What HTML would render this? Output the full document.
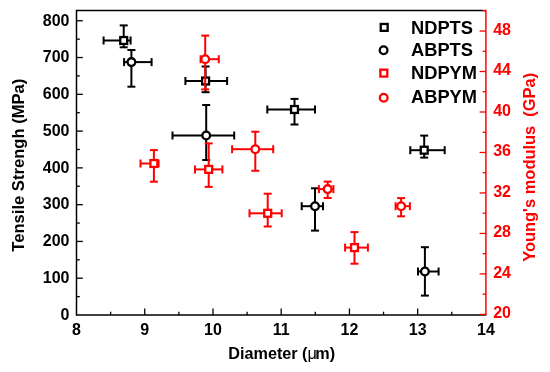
<!DOCTYPE html>
<html><head><meta charset="utf-8"><title>Tensile strength and Young's modulus vs diameter</title>
<style>html,body{margin:0;padding:0;background:#fff;}svg{display:block;}</style></head>
<body><svg width="550" height="372" viewBox="0 0 550 372">
<rect width="550" height="372" fill="#fff"/>
<line x1="76.5" y1="10.6" x2="482.9" y2="10.6" stroke="#000000" stroke-width="1.5"/>
<line x1="76.5" y1="315.0" x2="485.9" y2="315.0" stroke="#000000" stroke-width="1.5"/>
<line x1="76.5" y1="9.85" x2="76.5" y2="315.75" stroke="#000000" stroke-width="1.5"/>
<line x1="110.62" y1="315.0" x2="110.62" y2="311.7" stroke="#000000" stroke-width="1.3"/>
<line x1="144.73" y1="315.0" x2="144.73" y2="308.5" stroke="#000000" stroke-width="1.3"/>
<line x1="178.85" y1="315.0" x2="178.85" y2="311.7" stroke="#000000" stroke-width="1.3"/>
<line x1="212.97" y1="315.0" x2="212.97" y2="308.5" stroke="#000000" stroke-width="1.3"/>
<line x1="247.08" y1="315.0" x2="247.08" y2="311.7" stroke="#000000" stroke-width="1.3"/>
<line x1="281.20" y1="315.0" x2="281.20" y2="308.5" stroke="#000000" stroke-width="1.3"/>
<line x1="315.32" y1="315.0" x2="315.32" y2="311.7" stroke="#000000" stroke-width="1.3"/>
<line x1="349.43" y1="315.0" x2="349.43" y2="308.5" stroke="#000000" stroke-width="1.3"/>
<line x1="383.55" y1="315.0" x2="383.55" y2="311.7" stroke="#000000" stroke-width="1.3"/>
<line x1="417.67" y1="315.0" x2="417.67" y2="308.5" stroke="#000000" stroke-width="1.3"/>
<line x1="451.78" y1="315.0" x2="451.78" y2="311.7" stroke="#000000" stroke-width="1.3"/>
<line x1="76.5" y1="296.61" x2="79.8" y2="296.61" stroke="#000000" stroke-width="1.3"/>
<line x1="76.5" y1="278.22" x2="82.8" y2="278.22" stroke="#000000" stroke-width="1.3"/>
<line x1="76.5" y1="259.83" x2="79.8" y2="259.83" stroke="#000000" stroke-width="1.3"/>
<line x1="76.5" y1="241.44" x2="82.8" y2="241.44" stroke="#000000" stroke-width="1.3"/>
<line x1="76.5" y1="223.05" x2="79.8" y2="223.05" stroke="#000000" stroke-width="1.3"/>
<line x1="76.5" y1="204.66" x2="82.8" y2="204.66" stroke="#000000" stroke-width="1.3"/>
<line x1="76.5" y1="186.27" x2="79.8" y2="186.27" stroke="#000000" stroke-width="1.3"/>
<line x1="76.5" y1="167.88" x2="82.8" y2="167.88" stroke="#000000" stroke-width="1.3"/>
<line x1="76.5" y1="149.49" x2="79.8" y2="149.49" stroke="#000000" stroke-width="1.3"/>
<line x1="76.5" y1="131.10" x2="82.8" y2="131.10" stroke="#000000" stroke-width="1.3"/>
<line x1="76.5" y1="112.71" x2="79.8" y2="112.71" stroke="#000000" stroke-width="1.3"/>
<line x1="76.5" y1="94.32" x2="82.8" y2="94.32" stroke="#000000" stroke-width="1.3"/>
<line x1="76.5" y1="75.93" x2="79.8" y2="75.93" stroke="#000000" stroke-width="1.3"/>
<line x1="76.5" y1="57.54" x2="82.8" y2="57.54" stroke="#000000" stroke-width="1.3"/>
<line x1="76.5" y1="39.15" x2="79.8" y2="39.15" stroke="#000000" stroke-width="1.3"/>
<line x1="76.5" y1="20.76" x2="82.8" y2="20.76" stroke="#000000" stroke-width="1.3"/>
<line x1="485.9" y1="9.85" x2="485.9" y2="315.75" stroke="#ff0000" stroke-width="1.5"/>
<line x1="482.9" y1="10.6" x2="485.9" y2="10.6" stroke="#ff0000" stroke-width="1.5"/>
<line x1="485.9" y1="314.40" x2="479.59999999999997" y2="314.40" stroke="#ff0000" stroke-width="1.3"/>
<line x1="485.9" y1="294.16" x2="482.59999999999997" y2="294.16" stroke="#ff0000" stroke-width="1.3"/>
<line x1="485.9" y1="273.92" x2="479.59999999999997" y2="273.92" stroke="#ff0000" stroke-width="1.3"/>
<line x1="485.9" y1="253.68" x2="482.59999999999997" y2="253.68" stroke="#ff0000" stroke-width="1.3"/>
<line x1="485.9" y1="233.44" x2="479.59999999999997" y2="233.44" stroke="#ff0000" stroke-width="1.3"/>
<line x1="485.9" y1="213.20" x2="482.59999999999997" y2="213.20" stroke="#ff0000" stroke-width="1.3"/>
<line x1="485.9" y1="192.96" x2="479.59999999999997" y2="192.96" stroke="#ff0000" stroke-width="1.3"/>
<line x1="485.9" y1="172.72" x2="482.59999999999997" y2="172.72" stroke="#ff0000" stroke-width="1.3"/>
<line x1="485.9" y1="152.48" x2="479.59999999999997" y2="152.48" stroke="#ff0000" stroke-width="1.3"/>
<line x1="485.9" y1="132.24" x2="482.59999999999997" y2="132.24" stroke="#ff0000" stroke-width="1.3"/>
<line x1="485.9" y1="112.00" x2="479.59999999999997" y2="112.00" stroke="#ff0000" stroke-width="1.3"/>
<line x1="485.9" y1="91.76" x2="482.59999999999997" y2="91.76" stroke="#ff0000" stroke-width="1.3"/>
<line x1="485.9" y1="71.52" x2="479.59999999999997" y2="71.52" stroke="#ff0000" stroke-width="1.3"/>
<line x1="485.9" y1="51.28" x2="482.59999999999997" y2="51.28" stroke="#ff0000" stroke-width="1.3"/>
<line x1="485.9" y1="31.04" x2="479.59999999999997" y2="31.04" stroke="#ff0000" stroke-width="1.3"/>
<line x1="485.9" y1="10.80" x2="482.59999999999997" y2="10.80" stroke="#ff0000" stroke-width="1.3"/>
<g font-family="Liberation Sans, sans-serif" font-weight="bold" font-size="16" fill="#000000"><text x="76.50" y="334.5" text-anchor="middle">8</text><text x="144.73" y="334.5" text-anchor="middle">9</text><text x="212.97" y="334.5" text-anchor="middle">10</text><text x="281.20" y="334.5" text-anchor="middle">11</text><text x="349.43" y="334.5" text-anchor="middle">12</text><text x="417.67" y="334.5" text-anchor="middle">13</text><text x="485.90" y="334.5" text-anchor="middle">14</text><text x="69.5" y="319.80" text-anchor="end">0</text><text x="69.5" y="283.02" text-anchor="end">100</text><text x="69.5" y="246.24" text-anchor="end">200</text><text x="69.5" y="209.46" text-anchor="end">300</text><text x="69.5" y="172.68" text-anchor="end">400</text><text x="69.5" y="135.90" text-anchor="end">500</text><text x="69.5" y="99.12" text-anchor="end">600</text><text x="69.5" y="62.34" text-anchor="end">700</text><text x="69.5" y="25.56" text-anchor="end">800</text></g>
<g font-family="Liberation Sans, sans-serif" font-weight="bold" font-size="16" fill="#ff0000"><text x="493.2" y="318.30">20</text><text x="493.2" y="277.82">24</text><text x="493.2" y="237.34">28</text><text x="493.2" y="196.86">32</text><text x="493.2" y="156.38">36</text><text x="493.2" y="115.90">40</text><text x="493.2" y="75.42">44</text><text x="493.2" y="34.94">48</text></g>
<text x="228.3" y="358.9" font-family="Liberation Sans, sans-serif" font-weight="bold" font-size="16.2" fill="#000000">Diameter (<tspan font-weight="normal">μ</tspan><tspan dx="-1.5">m)</tspan></text>
<text transform="translate(24.0,251.7) rotate(-90)" font-family="Liberation Sans, sans-serif" font-weight="bold" font-size="16.6" fill="#000000">Tensile Strengh (MPa)</text>
<text transform="translate(535.1,261.8) rotate(-90)" font-family="Liberation Sans, sans-serif" font-weight="bold" font-size="16.45" fill="#ff0000" xml:space="preserve">Young's modulus  (GPa)</text>
<g stroke="#000000" stroke-width="2.0"><line x1="103.6" y1="40.5" x2="123.7" y2="40.5"/><line x1="103.6" y1="36.5" x2="103.6" y2="44.5"/><line x1="123.7" y1="40.5" x2="130.6" y2="40.5"/><line x1="130.6" y1="36.5" x2="130.6" y2="44.5"/><line x1="123.7" y1="25.4" x2="123.7" y2="40.5"/><line x1="119.7" y1="25.4" x2="127.7" y2="25.4"/><line x1="123.7" y1="40.5" x2="123.7" y2="47.3"/><line x1="119.7" y1="47.3" x2="127.7" y2="47.3"/></g>
<g stroke="#000000" stroke-width="2.0"><line x1="185.4" y1="81" x2="205.6" y2="81"/><line x1="185.4" y1="77.0" x2="185.4" y2="85.0"/><line x1="205.6" y1="81" x2="227.1" y2="81"/><line x1="227.1" y1="77.0" x2="227.1" y2="85.0"/><line x1="205.6" y1="66.5" x2="205.6" y2="81"/><line x1="201.6" y1="66.5" x2="209.6" y2="66.5"/><line x1="205.6" y1="81" x2="205.6" y2="92.2"/><line x1="201.6" y1="92.2" x2="209.6" y2="92.2"/></g>
<g stroke="#000000" stroke-width="2.0"><line x1="267.3" y1="109.5" x2="294.5" y2="109.5"/><line x1="267.3" y1="105.5" x2="267.3" y2="113.5"/><line x1="294.5" y1="109.5" x2="315" y2="109.5"/><line x1="315" y1="105.5" x2="315" y2="113.5"/><line x1="294.5" y1="98.9" x2="294.5" y2="109.5"/><line x1="290.5" y1="98.9" x2="298.5" y2="98.9"/><line x1="294.5" y1="109.5" x2="294.5" y2="124.5"/><line x1="290.5" y1="124.5" x2="298.5" y2="124.5"/></g>
<g stroke="#000000" stroke-width="2.0"><line x1="410.3" y1="150.2" x2="424.2" y2="150.2"/><line x1="410.3" y1="146.2" x2="410.3" y2="154.2"/><line x1="424.2" y1="150.2" x2="444.7" y2="150.2"/><line x1="444.7" y1="146.2" x2="444.7" y2="154.2"/><line x1="424.2" y1="135.6" x2="424.2" y2="150.2"/><line x1="420.2" y1="135.6" x2="428.2" y2="135.6"/><line x1="424.2" y1="150.2" x2="424.2" y2="157.6"/><line x1="420.2" y1="157.6" x2="428.2" y2="157.6"/></g>
<rect x="120.25" y="37.05" width="6.9" height="6.9" fill="#fff" stroke="#000000" stroke-width="2.3"/>
<rect x="202.15" y="77.55" width="6.9" height="6.9" fill="#fff" stroke="#000000" stroke-width="2.3"/>
<rect x="291.05" y="106.05" width="6.9" height="6.9" fill="#fff" stroke="#000000" stroke-width="2.3"/>
<rect x="420.75" y="146.75" width="6.9" height="6.9" fill="#fff" stroke="#000000" stroke-width="2.3"/>
<g stroke="#000000" stroke-width="2.0"><line x1="124.1" y1="62.1" x2="131.4" y2="62.1"/><line x1="124.1" y1="58.1" x2="124.1" y2="66.1"/><line x1="131.4" y1="62.1" x2="151.6" y2="62.1"/><line x1="151.6" y1="58.1" x2="151.6" y2="66.1"/><line x1="131.4" y1="50" x2="131.4" y2="62.1"/><line x1="127.4" y1="50" x2="135.4" y2="50"/><line x1="131.4" y1="62.1" x2="131.4" y2="86.7"/><line x1="127.4" y1="86.7" x2="135.4" y2="86.7"/></g>
<g stroke="#000000" stroke-width="2.0"><line x1="172.5" y1="135.5" x2="206.2" y2="135.5"/><line x1="172.5" y1="131.5" x2="172.5" y2="139.5"/><line x1="206.2" y1="135.5" x2="234.2" y2="135.5"/><line x1="234.2" y1="131.5" x2="234.2" y2="139.5"/><line x1="206.2" y1="105" x2="206.2" y2="135.5"/><line x1="202.2" y1="105" x2="210.2" y2="105"/><line x1="206.2" y1="135.5" x2="206.2" y2="160"/><line x1="202.2" y1="160" x2="210.2" y2="160"/></g>
<g stroke="#000000" stroke-width="2.0"><line x1="301.7" y1="206.2" x2="315" y2="206.2"/><line x1="301.7" y1="202.2" x2="301.7" y2="210.2"/><line x1="315" y1="206.2" x2="323" y2="206.2"/><line x1="323" y1="202.2" x2="323" y2="210.2"/><line x1="315" y1="188.3" x2="315" y2="206.2"/><line x1="311.0" y1="188.3" x2="319.0" y2="188.3"/><line x1="315" y1="206.2" x2="315" y2="230.6"/><line x1="311.0" y1="230.6" x2="319.0" y2="230.6"/></g>
<g stroke="#000000" stroke-width="2.0"><line x1="418" y1="271.5" x2="424.9" y2="271.5"/><line x1="418" y1="267.5" x2="418" y2="275.5"/><line x1="424.9" y1="271.5" x2="438.6" y2="271.5"/><line x1="438.6" y1="267.5" x2="438.6" y2="275.5"/><line x1="424.9" y1="247.2" x2="424.9" y2="271.5"/><line x1="420.9" y1="247.2" x2="428.9" y2="247.2"/><line x1="424.9" y1="271.5" x2="424.9" y2="295.6"/><line x1="420.9" y1="295.6" x2="428.9" y2="295.6"/></g>
<circle cx="131.4" cy="62.1" r="3.85" fill="#fff" stroke="#000000" stroke-width="2.3"/>
<circle cx="206.2" cy="135.5" r="3.85" fill="#fff" stroke="#000000" stroke-width="2.3"/>
<circle cx="315" cy="206.2" r="3.85" fill="#fff" stroke="#000000" stroke-width="2.3"/>
<circle cx="424.9" cy="271.5" r="3.85" fill="#fff" stroke="#000000" stroke-width="2.3"/>
<g stroke="#ff0000" stroke-width="2.0"><line x1="140.5" y1="163.5" x2="153.9" y2="163.5"/><line x1="140.5" y1="159.5" x2="140.5" y2="167.5"/><line x1="153.9" y1="163.5" x2="158.6" y2="163.5"/><line x1="158.6" y1="159.5" x2="158.6" y2="167.5"/><line x1="153.9" y1="150.1" x2="153.9" y2="163.5"/><line x1="149.9" y1="150.1" x2="157.9" y2="150.1"/><line x1="153.9" y1="163.5" x2="153.9" y2="181.7"/><line x1="149.9" y1="181.7" x2="157.9" y2="181.7"/></g>
<g stroke="#ff0000" stroke-width="2.0"><line x1="195" y1="169.4" x2="208.7" y2="169.4"/><line x1="195" y1="165.4" x2="195" y2="173.4"/><line x1="208.7" y1="169.4" x2="222.4" y2="169.4"/><line x1="222.4" y1="165.4" x2="222.4" y2="173.4"/><line x1="208.7" y1="143.4" x2="208.7" y2="169.4"/><line x1="204.7" y1="143.4" x2="212.7" y2="143.4"/><line x1="208.7" y1="169.4" x2="208.7" y2="186.9"/><line x1="204.7" y1="186.9" x2="212.7" y2="186.9"/></g>
<g stroke="#ff0000" stroke-width="2.0"><line x1="249.5" y1="213.3" x2="267.7" y2="213.3"/><line x1="249.5" y1="209.3" x2="249.5" y2="217.3"/><line x1="267.7" y1="213.3" x2="281.7" y2="213.3"/><line x1="281.7" y1="209.3" x2="281.7" y2="217.3"/><line x1="267.7" y1="193.7" x2="267.7" y2="213.3"/><line x1="263.7" y1="193.7" x2="271.7" y2="193.7"/><line x1="267.7" y1="213.3" x2="267.7" y2="226.5"/><line x1="263.7" y1="226.5" x2="271.7" y2="226.5"/></g>
<g stroke="#ff0000" stroke-width="2.0"><line x1="345.1" y1="247.6" x2="354.5" y2="247.6"/><line x1="345.1" y1="243.6" x2="345.1" y2="251.6"/><line x1="354.5" y1="247.6" x2="367.9" y2="247.6"/><line x1="367.9" y1="243.6" x2="367.9" y2="251.6"/><line x1="354.5" y1="232.1" x2="354.5" y2="247.6"/><line x1="350.5" y1="232.1" x2="358.5" y2="232.1"/><line x1="354.5" y1="247.6" x2="354.5" y2="263.7"/><line x1="350.5" y1="263.7" x2="358.5" y2="263.7"/></g>
<rect x="150.45000000000002" y="160.05" width="6.9" height="6.9" fill="#fff" stroke="#ff0000" stroke-width="2.3"/>
<rect x="205.25" y="165.95000000000002" width="6.9" height="6.9" fill="#fff" stroke="#ff0000" stroke-width="2.3"/>
<rect x="264.25" y="209.85000000000002" width="6.9" height="6.9" fill="#fff" stroke="#ff0000" stroke-width="2.3"/>
<rect x="351.05" y="244.15" width="6.9" height="6.9" fill="#fff" stroke="#ff0000" stroke-width="2.3"/>
<g stroke="#ff0000" stroke-width="2.0"><line x1="200.6" y1="59.2" x2="205.2" y2="59.2"/><line x1="200.6" y1="55.2" x2="200.6" y2="63.2"/><line x1="205.2" y1="59.2" x2="218.8" y2="59.2"/><line x1="218.8" y1="55.2" x2="218.8" y2="63.2"/><line x1="205.2" y1="35.6" x2="205.2" y2="59.2"/><line x1="201.2" y1="35.6" x2="209.2" y2="35.6"/><line x1="205.2" y1="59.2" x2="205.2" y2="89.4"/><line x1="201.2" y1="89.4" x2="209.2" y2="89.4"/></g>
<g stroke="#ff0000" stroke-width="2.0"><line x1="232.1" y1="149.2" x2="255.3" y2="149.2"/><line x1="232.1" y1="145.2" x2="232.1" y2="153.2"/><line x1="255.3" y1="149.2" x2="273.2" y2="149.2"/><line x1="273.2" y1="145.2" x2="273.2" y2="153.2"/><line x1="255.3" y1="131.7" x2="255.3" y2="149.2"/><line x1="251.3" y1="131.7" x2="259.3" y2="131.7"/><line x1="255.3" y1="149.2" x2="255.3" y2="170.8"/><line x1="251.3" y1="170.8" x2="259.3" y2="170.8"/></g>
<g stroke="#ff0000" stroke-width="2.0"><line x1="318.9" y1="189.1" x2="327.7" y2="189.1"/><line x1="318.9" y1="185.1" x2="318.9" y2="193.1"/><line x1="327.7" y1="189.1" x2="333.4" y2="189.1"/><line x1="333.4" y1="185.1" x2="333.4" y2="193.1"/><line x1="327.7" y1="181.6" x2="327.7" y2="189.1"/><line x1="323.7" y1="181.6" x2="331.7" y2="181.6"/><line x1="327.7" y1="189.1" x2="327.7" y2="198"/><line x1="323.7" y1="198" x2="331.7" y2="198"/></g>
<g stroke="#ff0000" stroke-width="2.0"><line x1="395.6" y1="206.2" x2="401.1" y2="206.2"/><line x1="395.6" y1="202.2" x2="395.6" y2="210.2"/><line x1="401.1" y1="206.2" x2="409.9" y2="206.2"/><line x1="409.9" y1="202.2" x2="409.9" y2="210.2"/><line x1="401.1" y1="198.1" x2="401.1" y2="206.2"/><line x1="397.1" y1="198.1" x2="405.1" y2="198.1"/><line x1="401.1" y1="206.2" x2="401.1" y2="216.3"/><line x1="397.1" y1="216.3" x2="405.1" y2="216.3"/></g>
<circle cx="205.2" cy="59.2" r="3.85" fill="#fff" stroke="#ff0000" stroke-width="2.3"/>
<circle cx="255.3" cy="149.2" r="3.85" fill="#fff" stroke="#ff0000" stroke-width="2.3"/>
<circle cx="327.7" cy="189.1" r="3.85" fill="#fff" stroke="#ff0000" stroke-width="2.3"/>
<circle cx="401.1" cy="206.2" r="3.85" fill="#fff" stroke="#ff0000" stroke-width="2.3"/>
<rect x="380.75" y="23.95" width="6.9" height="6.9" fill="#fff" stroke="#000000" stroke-width="2.3"/>
<circle cx="383.6" cy="50.3" r="3.85" fill="#fff" stroke="#000000" stroke-width="2.3"/>
<rect x="380.35" y="69.64999999999999" width="6.9" height="6.9" fill="#fff" stroke="#ff0000" stroke-width="2.3"/>
<circle cx="383.7" cy="97.7" r="3.85" fill="#fff" stroke="#ff0000" stroke-width="2.3"/>
<g font-family="Liberation Sans, sans-serif" font-weight="bold" font-size="18.3" fill="#000000"><text x="411" y="33.5">NDPTS</text><text x="411" y="56.1">ABPTS</text><text x="411" y="79.3">NDPYM</text><text x="411" y="102.7">ABPYM</text></g>
</svg></body></html>
